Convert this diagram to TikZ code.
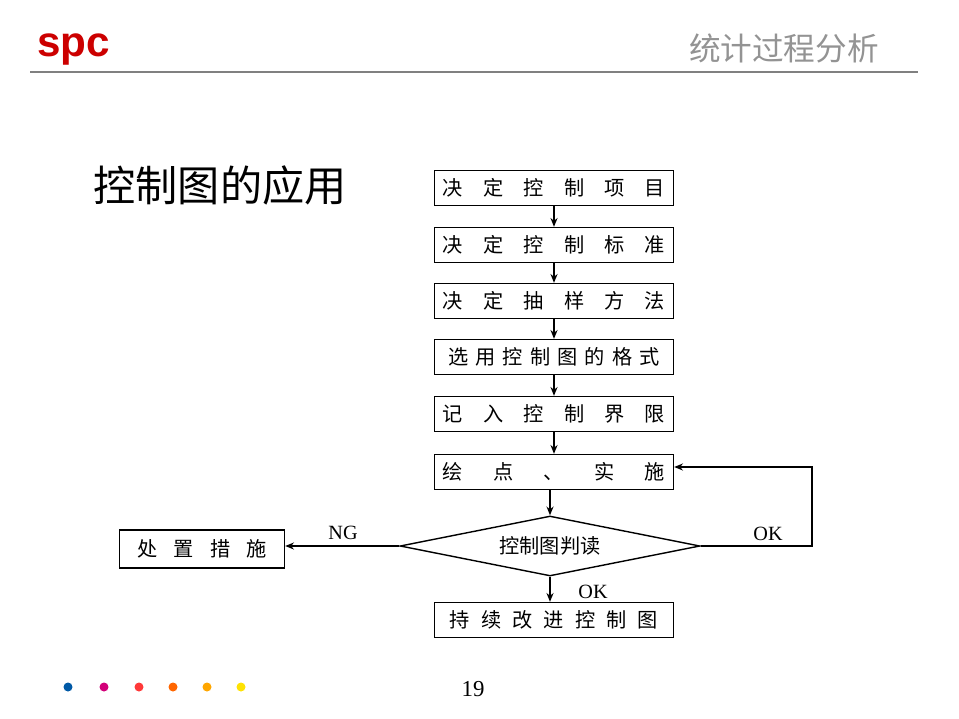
\documentclass[tikz,border=0pt]{standalone}
\usepackage{fontspec}
\setmainfont{Liberation Serif}
\newfontfamily\cjk{Noto Sans CJK SC}
\newfontfamily\hsans{Liberation Sans}
\usetikzlibrary{arrows.meta,shapes.geometric}
\begin{document}
\begin{tikzpicture}[x=0.02cm,y=-0.02cm,
  box/.style={draw,line width=0.8pt,minimum width=4.78cm,minimum height=0.7cm,inner sep=0pt,font=\cjk\fontsize{11.5}{12}\selectfont},
  arr/.style={-{Stealth[length=5pt,width=4pt]},line width=0.8pt},
  lbl/.style={font=\fontsize{11.5}{12}\selectfont}]
\useasboundingbox (0,0) rectangle (959,719);
\node[font=\hsans\bfseries\fontsize{24}{26}\selectfont,text=red!80!black,anchor=west] (spc) at (31,50) {spc};
\node[font=\cjk\itshape\fontsize{18}{20}\selectfont,text=gray!85,anchor=east] (hd) at (885,48) {统计过程分析};
\draw[gray,line width=0.8pt] (30,72) -- (918,72);
\node[font=\cjk\fontsize{24}{26}\selectfont] (title) at (220,185) {控制图的应用};
\node[box] (b1) at (554,188) {决\hspace{1em}定\hspace{1em}控\hspace{1em}制\hspace{1em}项\hspace{1em}目};
\node[box] (b2) at (554,245) {决\hspace{1em}定\hspace{1em}控\hspace{1em}制\hspace{1em}标\hspace{1em}准};
\node[box] (b3) at (554,301) {决\hspace{1em}定\hspace{1em}抽\hspace{1em}样\hspace{1em}方\hspace{1em}法};
\node[box] (b4) at (554,357) {选\hspace{0.35em}用\hspace{0.35em}控\hspace{0.35em}制\hspace{0.35em}图\hspace{0.35em}的\hspace{0.35em}格\hspace{0.35em}式};
\node[box] (b5) at (554,414) {记\hspace{1em}入\hspace{1em}控\hspace{1em}制\hspace{1em}界\hspace{1em}限};
\node[box] (b6) at (554,472) {绘\hspace{1.5em}点\hspace{1.5em}、\hspace{1.5em}实\hspace{1.5em}施};
\node[draw,diamond,aspect=5,minimum width=6cm,minimum height=1.2cm,inner sep=0pt,line width=0.8pt,font=\cjk\fontsize{11.5}{12}\selectfont] (d) at (550,546) {控制图判读};
\node[box] (b7) at (554,620) {持\hspace{0.55em}续\hspace{0.55em}改\hspace{0.55em}进\hspace{0.55em}控\hspace{0.55em}制\hspace{0.55em}图};
\node[box,minimum width=3.3cm,minimum height=0.76cm] (l) at (202,549) {处\hspace{0.8em}置\hspace{0.8em}措\hspace{0.8em}施};
\draw[arr] (b1) -- (b2);
\draw[arr] (b2) -- (b3);
\draw[arr] (b3) -- (b4);
\draw[arr] (b4) -- (b5);
\draw[arr] (b5) -- (b6);
\draw[arr] (b6.south -| d.north) -- (d.north);
\draw[arr] (d.south) -- (d.south |- b7.north);
\draw[arr] (d.west) -- (l.east |- d.west);
\coordinate (c1) at (812,546);
\coordinate (c2) at (812,467);
\draw[arr] (d.east) -- (c1) -- (c2) -- (b6.east |- c2);
\node[lbl] (ng) at (343,533) {NG};
\node[lbl] (ok1) at (768,534) {OK};
\node[lbl] (ok2) at (593,592) {OK};
\node[font=\fontsize{13}{14}\selectfont] (pg) at (473,689) {19};
\foreach \x/\c in {68/teal!70!blue,104/purple!70!magenta,139/red!70!pink,173/orange!80!red,207/orange!70!yellow,241/yellow!85!orange}
  \fill[\c] (\x,687) circle (4.5);
\end{tikzpicture}
\end{document}
